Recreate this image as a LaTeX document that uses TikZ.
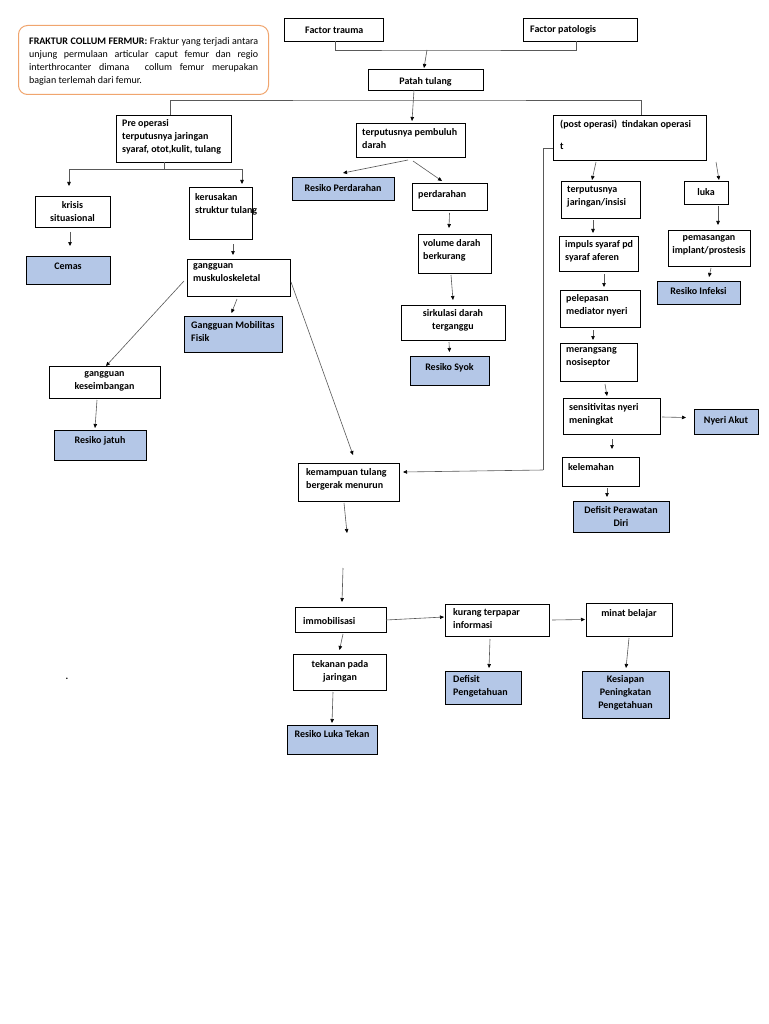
\documentclass[tikz,border=0pt]{standalone}
\usepackage{fontspec}
\setmainfont{Carlito}
\usetikzlibrary{arrows.meta,calc}
\definecolor{bluefill}{RGB}{180,199,231}
\definecolor{orangeb}{RGB}{240,165,110}
\newcommand{\bx}[6][wbox]{\node[#1,anchor=north west,minimum width={(#4-#2)*1pt},minimum height={(#5-#3)*1pt}] (#6) at (#2,#3) {};}
\begin{document}
\begin{tikzpicture}[x=1pt,y=-1pt,
 wbox/.style={draw=black,line width=0.8pt,fill=white,rectangle,inner sep=0pt,outer sep=0pt},
 bbox/.style={wbox,fill=bluefill},
 txt/.style={inner sep=0pt,font=\fontsize{10}{13}\selectfont\bfseries,execute at begin node=\strut},
 tl/.style={txt,anchor=north west,align=left},
 tc/.style={txt,anchor=north,align=center},
 line/.style={draw=black!65,line width=0.6pt},
 arr/.style={line,-{Triangle[length=4pt,width=3.5pt,color=black]}},
]
\useasboundingbox[fill=white] (0,0) rectangle (768,1024);

% definition box
\node[draw=orangeb,line width=1pt,rounded corners=9pt,anchor=north west,minimum width=250pt,minimum height=69pt,inner sep=0pt] (def) at (18,25) {};
\node[txt,anchor=north west,text width=229pt,align=justify] (def-t) at (29,35) {FRAKTUR COLLUM FERMUR: {\mdseries Fraktur yang terjadi antara\linebreak unjung permulaan articular caput femur dan regio\linebreak interthrocanter dimana\ \ collum femur merupakan\linebreak bagian terlemah dari femur.}};

% boxes
\bx{284}{18}{383}{41}{ft}
\bx{523}{18}{637}{41}{fp}
\bx{368}{69}{483}{90}{pt}
\bx{116}{115}{231}{162}{pre}
\bx{356}{123}{465}{157}{tpd}
\bx{553}{115}{706}{160}{post}
\bx{35}{196}{110}{227}{kr}
\bx{189}{187}{252}{239}{ke}
\bx[bbox]{292}{177}{394}{200}{rp}
\bx{412}{183}{487}{210}{pd}
\bx{418}{234}{491}{273}{vol}
\bx{187}{259}{290}{296}{gm}
\bx[bbox]{26}{256}{110}{284}{cemas}
\bx[bbox]{184}{316}{282}{352}{gmf}
\bx{49}{366}{160}{398}{ks}
\bx[bbox]{54}{430}{146}{460}{rj}
\bx{401}{305}{505}{340}{sd}
\bx[bbox]{410}{356}{489}{385}{syok}
\bx{298}{463}{399}{501}{km}
\bx{561}{181}{640}{218}{tji}
\bx{684}{181}{728}{204}{luka}
\bx{559}{236}{638}{271}{imp}
\bx{668}{230}{750}{266}{pem}
\bx[bbox]{657}{281}{740}{304}{inf}
\bx{560}{290}{640}{327}{pel}
\bx{560}{343}{637}{381}{mer}
\bx{563}{398}{660}{434}{sens}
\bx[bbox]{694}{409}{758}{434}{nyeri}
\bx{562}{457}{639}{486}{kel}
\bx[bbox]{573}{501}{669}{532}{dpd}
\bx{295}{607}{386}{632}{im}
\bx{445}{604}{549}{636}{kt}
\bx{586}{603}{672}{636}{mb}
\bx{293}{654}{386}{690}{tp}
\bx[bbox]{287}{725}{377}{754}{rlt}
\bx[bbox]{445}{671}{521}{704}{dp}
\bx[bbox]{582}{671}{669}{718}{kpp}

% texts
\node[tl] (ft-t) at (305,24) {Factor trauma};
\node[tl] (fp-t) at (530,23) {Factor patologis};
\node[tc] (pt-t) at (425.5,75) {Patah tulang};
\node[tl] (pre-t) at (122,119) {Pre operasi\\terputusnya jaringan\\syaraf, otot,kulit, tulang};
\node[tl] (tpd-t) at (362,128) {terputusnya pembuluh\\darah};
\node[tl] (post-t) at (560,120) {(post operasi)\ \ tindakan operasi\\[9pt]t};
\node[tc] (kr-t) at (72.5,201) {krisis\\situasional};
\node[tl] (ke-t) at (195,193) {kerusakan\\struktur tulang};
\node[tc] (rp-t) at (343,182) {Resiko Perdarahan};
\node[tl] (pd-t) at (418,188) {perdarahan};
\node[tl] (vol-t) at (423,239) {volume darah\\berkurang};
\node[tl] (gm-t) at (193,263) {gangguan\\muskuloskeletal};
\node[tc] (cemas-t) at (68,260) {Cemas};
\node[tl] (gmf-t) at (191,321) {Gangguan Mobilitas\\Fisik};
\node[tc] (ks-t) at (104.5,371) {gangguan\\keseimbangan};
\node[tc] (rj-t) at (100,434) {Resiko jatuh};
\node[tc] (sd-t) at (453,309) {sirkulasi darah\\terganggu};
\node[tc] (syok-t) at (449.5,361) {Resiko Syok};
\node[tl] (km-t) at (306,468) {kemampuan tulang\\bergerak menurun};
\node[tl] (tji-t) at (567,186) {terputusnya\\jaringan/insisi};
\node[tc] (luka-t) at (706,186) {luka};
\node[tl] (imp-t) at (565,240) {impuls syaraf pd\\syaraf aferen};
\node[tc] (pem-t) at (709,235) {pemasangan\\implant/prostesis};
\node[tc] (inf-t) at (698.5,285) {Resiko Infeksi};
\node[tl] (pel-t) at (566,294) {pelepasan\\mediator nyeri};
\node[tl] (mer-t) at (566,347) {merangsang\\nosiseptor};
\node[tl] (sens-t) at (569,403) {sensitivitas nyeri\\meningkat};
\node[tc] (nyeri-t) at (726,414) {Nyeri Akut};
\node[tl] (kel-t) at (568,461) {kelemahan};
\node[tc] (dpd-t) at (621,506) {Defisit Perawatan\\Diri};
\node[tl] (im-t) at (303,615) {immobilisasi};
\node[tl] (kt-t) at (453,608) {kurang terpapar\\informasi};
\node[tc] (mb-t) at (629,607) {minat belajar};
\node[tc] (tp-t) at (340,660) {tekanan pada\\jaringan};
\node[tc] (rlt-t) at (332,728) {Resiko Luka Tekan};
\node[tl] (dp-t) at (453,675) {Defisit\\Pengetahuan};
\node[tc] (kpp-t) at (625.5,675) {Kesiapan\\Peningkatan\\Pengetahuan};
\node[txt,anchor=base] (dot) at (67,679) {.};

% connectors
\coordinate (jt) at (427,50);
\draw[line] ([xshift=1.5pt]ft.south) |- (jt) -| ([xshift=-4pt]fp.south);
\draw[arr] (jt) -- ([xshift=-1.5pt,yshift=1pt]pt.north);
\coordinate (jb) at (413,100);
\draw[line] ([xshift=54pt]pre.north west) |- (jb) -| ([xshift=88pt]post.north west);
\draw[arr] ([xshift=-11.5pt]pt.south) -- ([xshift=56pt,yshift=2pt]tpd.north west);
\coordinate (jp) at (164,169);
\draw[line] ([xshift=48pt]pre.south west) -- (jp);
\draw[arr] (jp) -| ([xshift=34pt,yshift=10pt]kr.north west);
\draw[arr] (jp) -| ([xshift=53pt,yshift=3pt]ke.north west);
\draw[arr] ([xshift=-2.5pt,yshift=-5pt]kr.south) -- ([xshift=2pt,yshift=10pt]cemas.north);
\draw[arr] ([xshift=12.5pt,yshift=-5pt]ke.south) -- ([xshift=-5.5pt,yshift=4pt]gm.north);
\draw[arr] ([xshift=-1.5pt,yshift=-3pt]gm.south) -- ([xshift=-1.5pt,yshift=3pt]gmf.north);
\draw[arr] ([xshift=-3pt,yshift=-3.5pt]gm.west) -- ([xshift=57pt]ks.north west);
\draw[arr] ([xshift=-7.5pt,yshift=-2pt]ks.south) -- ([xshift=41pt,yshift=2pt]rj.north west);
\draw[arr] ([xshift=1pt,yshift=-4.5pt]gm.east) -- ([xshift=55pt,yshift=8pt]km.north west);
\draw[arr] ([xshift=-2.5pt,yshift=-3pt]tpd.south) -- ([yshift=4pt]rp.north);
\draw[arr] ([xshift=57pt,yshift=-4pt]tpd.south west) -- ([xshift=30pt,yshift=2pt]pd.north west);
\draw[arr] ([yshift=-3pt]pd.south) -- ([xshift=31pt,yshift=6pt]vol.north west);
\draw[arr] ([xshift=-3.5pt,yshift=-2pt]vol.south) -- ([yshift=5pt]sd.north);
\draw[arr] ([xshift=-4pt,yshift=-2pt]sd.south) -- ([yshift=4pt]syok.north);
\draw[arr] ([xshift=43pt,yshift=-2pt]post.south west) -- ([xshift=31pt,yshift=1pt]tji.north west);
\draw[arr] ([xshift=163pt,yshift=-2pt]post.south west) -- ([xshift=35pt,yshift=1pt]luka.north west);
\draw[arr] ([xshift=32pt,yshift=-2pt]tji.south west) -- ([xshift=34pt,yshift=3pt]imp.north west);
\draw[arr] ([xshift=45pt,yshift=-3pt]imp.south west) -- ([xshift=44pt,yshift=3pt]pel.north west);
\draw[arr] ([xshift=34pt,yshift=-2pt]luka.south west) -- ([xshift=50pt,yshift=5pt]pem.north west);
\draw[arr] ([xshift=43pt,yshift=-2pt]pem.south west) -- ([xshift=52pt,yshift=4pt]inf.north west);
\draw[arr] ([xshift=33pt,yshift=-3pt]pel.south west) -- ([xshift=33pt,yshift=3pt]mer.north west);
\draw[arr] ([xshift=45pt,yshift=-3pt]mer.south west) -- ([xshift=44pt,yshift=2pt]sens.north west);
\draw[arr] ([xshift=2pt,yshift=-1pt]sens.east) -- ([xshift=-8pt,yshift=4pt]nyeri.west);
\draw[arr] ([xshift=49pt,yshift=-5pt]sens.south west) -- ([xshift=50pt,yshift=8pt]kel.north west);
\draw[arr] ([xshift=45pt,yshift=-2pt]kel.south west) -- ([xshift=34pt,yshift=4pt]dpd.north west);
\coordinate (pc) at (543,470);
\draw[line] ([yshift=-10.5pt]post.west) -| (pc);
\draw[arr] (pc) -- ([xshift=4pt,yshift=10pt]km.east);
\coordinate (ka) at (347,533);
\coordinate (kb) at (343,568);
\draw[arr] ([xshift=-4.5pt,yshift=-2pt]km.south) -- (ka);
\draw[arr] (kb) -- ([xshift=1.5pt,yshift=5pt]im.north);
\draw[arr] ([yshift=-0.5pt]im.east) -- ([xshift=-1pt,yshift=3pt]kt.west);
\draw[arr] ([xshift=3pt]kt.east) -- ([xshift=-1pt]mb.west);
\draw[arr] ([xshift=2.5pt,yshift=-2pt]im.south) -- ([yshift=4pt]tp.north);
\draw[arr] ([xshift=-6.5pt,yshift=-2pt]tp.south) -- ([yshift=2pt]rlt.north);
\draw[arr] ([xshift=-7pt,yshift=-3pt]kt.south) -- ([xshift=44pt,yshift=3pt]dp.north west);
\draw[arr] ([yshift=-2pt]mb.south) -- ([xshift=44pt,yshift=3pt]kpp.north west);
\end{tikzpicture}
\end{document}
